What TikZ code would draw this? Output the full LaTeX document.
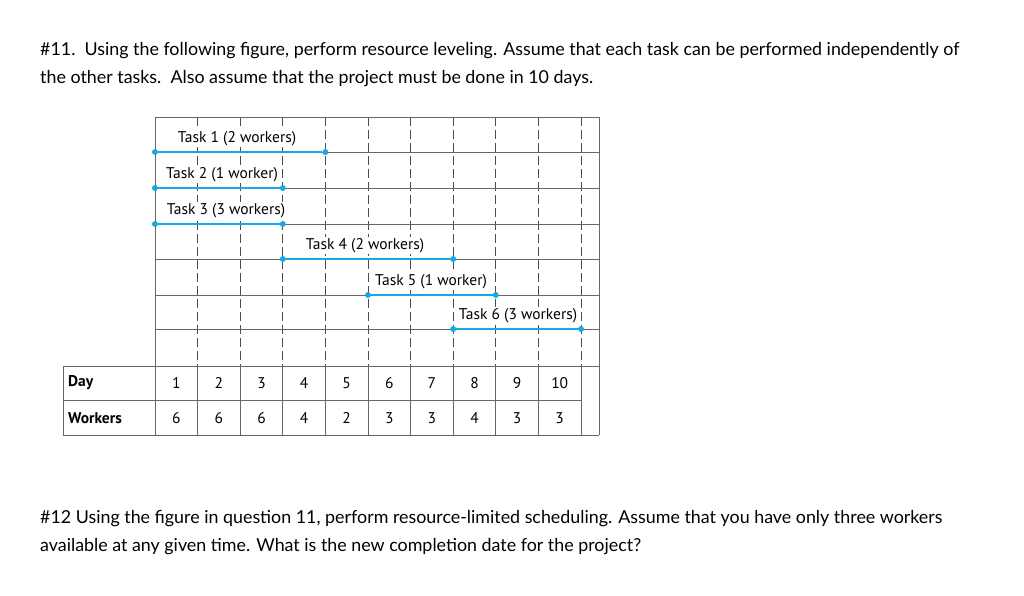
\documentclass[tikz,border=0pt]{standalone}
\usepackage{fontspec}
\setmainfont{Lato}
\newfontfamily\chartfont{PT Sans}
\begin{document}
\begin{tikzpicture}[x=1pt,y=-1pt,
  grid/.style={draw=black!60,line width=0.8pt},
  dgrid/.style={draw=black!70,line width=0.8pt,dash pattern=on 9pt off 4pt},
  bar/.style={draw={rgb,255:red,20;green,170;blue,230},line width=2.6pt},
  dot/.style={circle,fill={rgb,255:red,20;green,170;blue,230},inner sep=0pt,minimum size=6pt},
  body/.style={anchor=base west,inner sep=0pt,font=\fontsize{17.85}{20}\selectfont},
  tlabel/.style={font=\chartfont\fontsize{15.5}{18}\selectfont,inner sep=0pt},
  cell/.style={font=\chartfont\fontsize{15.5}{18}\selectfont,inner sep=0pt}]
\useasboundingbox (0,0) rectangle (1024,596);
\node[body] (l1) at (40,56) {\#11.\ \ Using the following figure, perform resource leveling. Assume that each task can be performed independently of};
\node[body] (l2) at (40,84) {the other tasks.\ \ Also assume that the project must be done in 10 days.};
\node[body] (l3) at (40,523) {\#12 Using the figure in question 11, perform resource-limited scheduling. Assume that you have only three workers};
\node[body] (l4) at (40,551) {available at any given time. What is the new completion date for the project?};
% grid
\foreach \k in {1,...,10} \draw[dgrid] ({155+42.6*\k},117) -- ({155+42.6*\k},366);
\foreach \y in {117,152,188,224,259,295,329,366} \draw[grid] (155,\y) -- (599,\y);
\draw[grid] (155,117) -- (155,435);
\draw[grid] (599,117) -- (599,435);
\draw[grid] (63,366) -- (63,435) -- (599,435);
\draw[grid] (63,366) -- (155,366);
\draw[grid] (63,400) -- (581,400);
\foreach \k in {1,...,10} \draw[grid] ({155+42.6*\k},366) -- ({155+42.6*\k},435);
\node[cell,anchor=west,font=\chartfont\bfseries\fontsize{15.5}{18}\selectfont] (day) at (68,383) {Day};
\node[cell,anchor=west,font=\chartfont\bfseries\fontsize{15.5}{18}\selectfont] (wk) at (68,418) {Workers};
\foreach \d/\w [count=\i] in {1/6,2/6,3/6,4/4,5/2,6/3,7/3,8/4,9/3,10/3} {
  \node[cell] (d\i) at ({155+42.6*\i-21.3},383) {\d};
  \node[cell] (w\i) at ({155+42.6*\i-21.3},418) {\w};
}
% bars
\foreach \n/\a/\b/\y/\t/\lx in {1/0/4/152/Task 1 (2 workers)/237,2/0/3/188/Task 2 (1 worker)/222,3/0/3/224/Task 3 (3 workers)/226,4/3/7/259/Task 4 (2 workers)/365,5/5/8/295/Task 5 (1 worker)/431,6/7/10/329/Task 6 (3 workers)/518} {
  \node[dot] (s\n) at ({155+42.6*\a},\y) {};
  \node[dot] (e\n) at ({155+42.6*\b},\y) {};
  \draw[bar] (s\n) -- (e\n);
  \node[tlabel,fill=white,inner xsep=1pt,inner ysep=1pt] (t\n) at (\lx,\y-13.5) {\t};
}
\end{tikzpicture}
\end{document}
